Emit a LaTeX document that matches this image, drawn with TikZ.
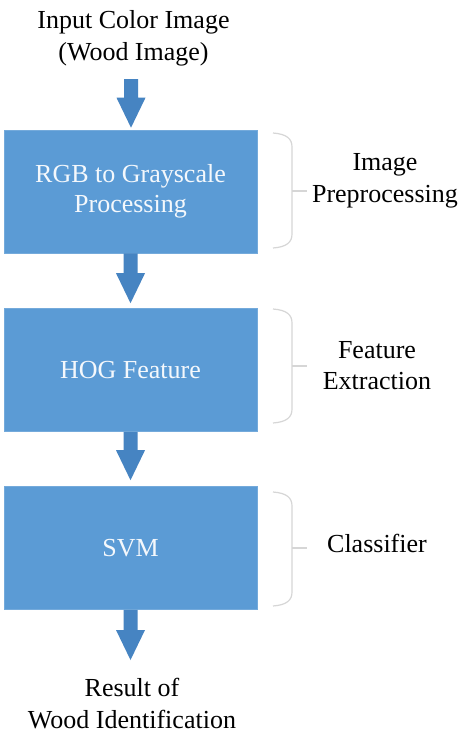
\documentclass[tikz,border=0pt]{standalone}
\usepackage{fontspec}
\setmainfont{Liberation Serif}
\newfontfamily\tnr{Liberation Serif}
\usetikzlibrary{calc}
\definecolor{boxblue}{RGB}{91,155,213}
\definecolor{arrblue}{RGB}{70,132,194}
\definecolor{bracegray}{RGB}{214,214,214}
\newcommand{\fatarr}[3]{\fill[arrblue] let \p1=(#1), \p2=(#2) in
  (\x1-7pt,\y1) -- (\x1-7pt,\y2+#3+30pt) -- (\x1-14.5pt,\y2+#3+30pt) -- (\x1,\y2+#3) --
  (\x1+14.5pt,\y2+#3+30pt) -- (\x1+7pt,\y2+#3+30pt) -- (\x1+7pt,\y1) -- cycle;}
\newcommand{\brk}[3]{\draw[brc] (273,#1) .. controls (287,#1+1) and (292,#1+6) .. (292,#1+14) -- (292,#2-14) .. controls (292,#2-6) and (287,#2-1) .. (273,#2);
  \draw[brc] (292,#3) -- (307,#3);}
\begin{document}
\begin{tikzpicture}[x=1pt,y=-1pt,
  stepbox/.style={fill=boxblue, draw=boxblue!85!white, line width=0.6pt, minimum width=253pt, minimum height=123pt, inner sep=0pt, text=white!93!boxblue, align=center, font=\tnr\fontsize{26}{30}\selectfont},
  lbl/.style={align=center, font=\tnr\fontsize{26}{31.5}\selectfont, inner sep=0pt},
  brc/.style={draw=bracegray, line width=1.2pt}]
\useasboundingbox (0,0) rectangle (474,748);
\fill[white] (0,0) rectangle (474,748);

\node[lbl] (in) at (133.5,38.5) {Input Color Image\\(Wood Image)};
\node[stepbox] (b1) at (130.5,191.5) {RGB to Grayscale\\Processing};
\node[stepbox] (b2) at (130.5,370) {HOG Feature};
\node[stepbox] (b3) at (130.5,548) {SVM};
\node[lbl] (out) at (132,703.5) {Result of\\Wood Identification};

\coordinate (a0) at (131,79);
\coordinate (a5) at (131,660);

\fatarr{a0}{b1.north}{2pt}
\fatarr{b1.south}{b2.north}{5pt}
\fatarr{b2.south}{b3.north}{6pt}
\fatarr{b3.south}{a5}{0pt}

\brk{133}{248}{191}
\brk{309}{423}{366}
\brk{492}{606}{548}

\node[lbl] (l1) at (385,181) {Image\\Preprocessing};
\node[lbl] (l2) at (377,365.5) {Feature\\Extraction};
\node[lbl] (l3) at (377,543) {Classifier};
\end{tikzpicture}
\end{document}
